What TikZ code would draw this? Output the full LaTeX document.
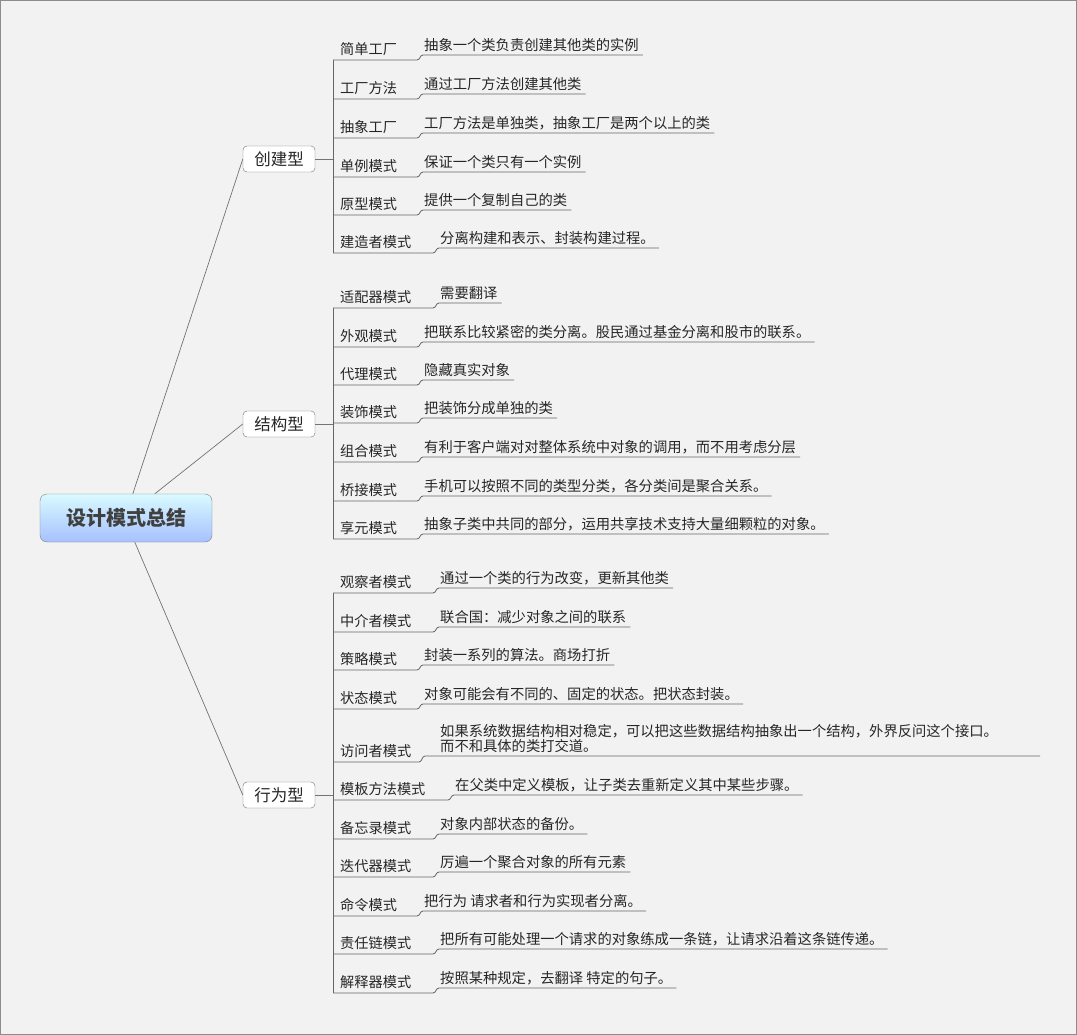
\documentclass[tikz,border=0pt]{standalone}
\usepackage{fontspec}
\setmainfont{Noto Sans CJK SC}
\begin{document}
\begin{tikzpicture}[x=1pt,y=-1pt,
  conn/.style={draw=black!55, line width=0.7pt},
  ulin/.style={draw=black!60, line width=0.8pt},
  kid/.style={anchor=west, inner sep=0pt, font=\fontsize{14.2}{15}\selectfont, text=black!85},
  det/.style={anchor=west, inner sep=0pt, font=\fontsize{14.3}{15}\selectfont, text=black!85},
  branch/.style={draw=black!55, rounded corners=4pt, fill=white, minimum width=72pt, minimum height=26pt, inner sep=0pt, font=\fontsize{16.5}{18}\selectfont, text=black!85},
]
\fill[black!5] (0,0) rectangle (1077,1035);
\draw[black!45] (0.5,0.5) rectangle (1076.5,1034.5);
\useasboundingbox (0,0) rectangle (1077,1035);
\newcommand{\leaf}[5]{% name, y, child text, detail x, detail text
  \node[kid] (#1k) at (340,#2) {#3};
  \node[det] (#1d) at (#4,#2-4) {#5};
  \draw[ulin] (333,#2+11) -- (#4-7,#2+11) to[out=0,in=180] (#4-1,#2+6) -- (#1d.east |- 0,#2+6) -- ++(4,0);
}
\node[draw=black!50, rounded corners=7pt, top color=blue!12!cyan!15, bottom color=cyan!30!blue!35, minimum width=172pt, minimum height=48pt, font=\fontsize{20}{22}\selectfont\bfseries, text=black!75] (root) at (126,518) {设计模式总结};
\node[branch] (c) at (279,159) {创建型};
\node[branch] (s) at (279,424) {结构型};
\node[branch] (b) at (279,795) {行为型};
\draw[conn] (root.north west)++(93,0) -- (c.west);
\draw[conn] (root.north west)++(115,0) -- (s.west);
\draw[conn] (root.south west)++(95,0) -- (b.west);
\coordinate (cj) at (333,159);
\coordinate (sj) at (333,424);
\coordinate (bj) at (333,795);
\draw[conn] (c.east) -- (cj);
\draw[conn] (s.east) -- (sj);
\draw[conn] (b.east) -- (bj);
\draw[ulin] (333,60) -- (333,253);
\draw[ulin] (333,308) -- (333,539);
\draw[ulin] (333,593) -- (333,993);
\leaf{c1}{49}{简单工厂}{424}{抽象一个类负责创建其他类的实例}
\leaf{c2}{88}{工厂方法}{424}{通过工厂方法创建其他类}
\leaf{c3}{127}{抽象工厂}{424}{工厂方法是单独类，抽象工厂是两个以上的类}
\leaf{c4}{166}{单例模式}{424}{保证一个类只有一个实例}
\leaf{c5}{204}{原型模式}{424}{提供一个复制自己的类}
\leaf{c6}{242}{建造者模式}{440}{分离构建和表示、封装构建过程。}
\leaf{s1}{297}{适配器模式}{440}{需要翻译}
\leaf{s2}{336}{外观模式}{424}{把联系比较紧密的类分离。股民通过基金分离和股市的联系。}
\leaf{s3}{374}{代理模式}{424}{隐藏真实对象}
\leaf{s4}{412}{装饰模式}{424}{把装饰分成单独的类}
\leaf{s5}{451}{组合模式}{424}{有利于客户端对对整体系统中对象的调用，而不用考虑分层}
\leaf{s6}{490}{桥接模式}{424}{手机可以按照不同的类型分类，各分类间是聚合关系。}
\leaf{s7}{528}{享元模式}{424}{抽象子类中共同的部分，运用共享技术支持大量细颗粒的对象。}
\leaf{b1}{582}{观察者模式}{440}{通过一个类的行为改变，更新其他类}
\leaf{b2}{621}{中介者模式}{440}{联合国：减少对象之间的联系}
\leaf{b3}{659}{策略模式}{424}{封装一系列的算法。商场打折}
\leaf{b4}{698}{状态模式}{424}{对象可能会有不同的、固定的状态。把状态封装。}
\node[kid] (b5k) at (340,751) {访问者模式};
\node[det, align=left] (b5d) at (440,739) {如果系统数据结构相对稳定，可以把这些数据结构抽象出一个结构，外界反问这个接口。\\而不和具体的类打交道。};
\draw[ulin] (333,762) -- (419,762) to[out=0,in=180] (425,756) -- (1040,756);
\leaf{b6}{789}{模板方法模式}{455}{在父类中定义模板，让子类去重新定义其中某些步骤。}
\leaf{b7}{828}{备忘录模式}{440}{对象内部状态的备份。}
\leaf{b8}{866}{迭代器模式}{440}{厉遍一个聚合对象的所有元素}
\leaf{b9}{905}{命令模式}{424}{把行为 请求者和行为实现者分离。}
\leaf{b10}{943}{责任链模式}{440}{把所有可能处理一个请求的对象练成一条链，让请求沿着这条链传递。}
\leaf{b11}{982}{解释器模式}{440}{按照某种规定，去翻译 特定的句子。}
\end{tikzpicture}
\end{document}
